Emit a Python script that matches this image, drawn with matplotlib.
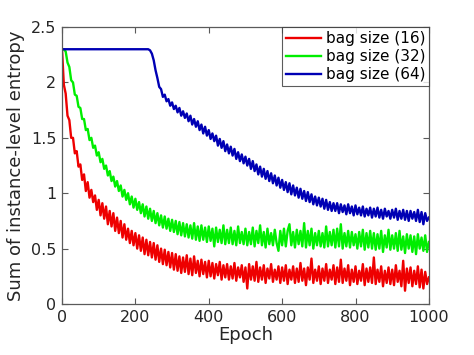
import numpy as np
import matplotlib
matplotlib.use("Agg")
import matplotlib.pyplot as plt

epochs = list(range(0, 1001, 5))

bag16 = [
    2.30, 1.98, 1.90, 1.70, 1.66, 1.50, 1.50, 1.36, 1.38, 1.24,
    1.26, 1.12, 1.17, 1.02, 1.10, 0.96, 1.03, 0.92, 0.98, 0.85,
    0.94, 0.80, 0.91, 0.77, 0.88, 0.72, 0.84, 0.70, 0.82, 0.66,
    0.78, 0.64, 0.75, 0.60, 0.72, 0.58, 0.68, 0.55, 0.66, 0.53,
    0.64, 0.50, 0.62, 0.48, 0.60, 0.45, 0.58, 0.44, 0.56, 0.42,
    0.55, 0.40, 0.53, 0.38, 0.50, 0.36, 0.49, 0.35, 0.47, 0.33,
    0.46, 0.31, 0.45, 0.30, 0.43, 0.28, 0.42, 0.29, 0.44, 0.27,
    0.41, 0.26, 0.43, 0.28, 0.39, 0.25, 0.40, 0.27, 0.38, 0.24,
    0.39, 0.25, 0.37, 0.23, 0.36, 0.26, 0.38, 0.22, 0.35, 0.24,
    0.36, 0.22, 0.34, 0.23, 0.37, 0.21, 0.33, 0.24, 0.35, 0.20,
    0.33, 0.14, 0.36, 0.22, 0.34, 0.21, 0.38, 0.20, 0.33, 0.22,
    0.35, 0.19, 0.32, 0.23, 0.36, 0.20, 0.31, 0.22, 0.34, 0.19,
    0.33, 0.21, 0.35, 0.18, 0.31, 0.22, 0.34, 0.19, 0.32, 0.20,
    0.37, 0.21, 0.32, 0.17, 0.33, 0.22, 0.41, 0.19, 0.31, 0.21,
    0.34, 0.18, 0.32, 0.21, 0.36, 0.19, 0.31, 0.22, 0.35, 0.18,
    0.33, 0.20, 0.40, 0.19, 0.32, 0.21, 0.35, 0.17, 0.31, 0.20,
    0.34, 0.18, 0.30, 0.21, 0.36, 0.17, 0.32, 0.20, 0.33, 0.19,
    0.42, 0.18, 0.31, 0.20, 0.34, 0.16, 0.30, 0.19, 0.33, 0.18,
    0.31, 0.17, 0.35, 0.20, 0.30, 0.16, 0.39, 0.12, 0.32, 0.19,
    0.33, 0.16, 0.30, 0.18, 0.34, 0.15, 0.31, 0.14, 0.29, 0.18,
    0.24,
]

bag32 = [
    2.30, 2.30, 2.28, 2.18, 2.14, 2.02, 2.00, 1.89, 1.88, 1.78,
    1.77, 1.67, 1.67, 1.57, 1.58, 1.48, 1.50, 1.41, 1.43, 1.34,
    1.37, 1.28, 1.31, 1.22, 1.25, 1.16, 1.20, 1.11, 1.15, 1.06,
    1.11, 1.02, 1.07, 0.97, 1.03, 0.94, 1.00, 0.90, 0.97, 0.87,
    0.95, 0.85, 0.92, 0.82, 0.90, 0.79, 0.88, 0.77, 0.86, 0.75,
    0.84, 0.73, 0.82, 0.71, 0.80, 0.69, 0.79, 0.68, 0.77, 0.66,
    0.76, 0.65, 0.75, 0.63, 0.74, 0.62, 0.73, 0.61, 0.72, 0.60,
    0.71, 0.59, 0.73, 0.58, 0.70, 0.57, 0.71, 0.58, 0.69, 0.56,
    0.70, 0.57, 0.68, 0.52, 0.69, 0.56, 0.67, 0.55, 0.71, 0.54,
    0.67, 0.55, 0.69, 0.54, 0.66, 0.53, 0.70, 0.55, 0.65, 0.54,
    0.68, 0.53, 0.65, 0.54, 0.69, 0.52, 0.66, 0.55, 0.71, 0.53,
    0.65, 0.51, 0.68, 0.54, 0.64, 0.53, 0.67, 0.55, 0.48, 0.66,
    0.53, 0.68, 0.52, 0.66, 0.72, 0.53, 0.65, 0.51, 0.67, 0.54,
    0.66, 0.52, 0.73, 0.51, 0.66, 0.53, 0.68, 0.50, 0.64, 0.53,
    0.66, 0.52, 0.64, 0.51, 0.70, 0.52, 0.65, 0.53, 0.67, 0.51,
    0.68, 0.52, 0.72, 0.50, 0.64, 0.52, 0.66, 0.51, 0.65, 0.53,
    0.63, 0.50, 0.65, 0.52, 0.67, 0.49, 0.64, 0.51, 0.66, 0.50,
    0.64, 0.49, 0.63, 0.50, 0.66, 0.47, 0.62, 0.51, 0.67, 0.49,
    0.62, 0.50, 0.64, 0.48, 0.66, 0.49, 0.61, 0.46, 0.63, 0.50,
    0.62, 0.47, 0.61, 0.45, 0.63, 0.50, 0.60, 0.48, 0.62, 0.47,
    0.56,
]

bag64 = [
    2.30, 2.30, 2.30, 2.30, 2.30, 2.30, 2.30, 2.30, 2.30, 2.30,
    2.30, 2.30, 2.30, 2.30, 2.30, 2.30, 2.30, 2.30, 2.30, 2.30,
    2.30, 2.30, 2.30, 2.30, 2.30, 2.30, 2.30, 2.30, 2.30, 2.30,
    2.30, 2.30, 2.30, 2.30, 2.30, 2.30, 2.30, 2.30, 2.30, 2.30,
    2.30, 2.30, 2.30, 2.30, 2.30, 2.30, 2.30, 2.30, 2.29, 2.26,
    2.20, 2.11, 2.04, 1.96, 1.94, 1.87, 1.89, 1.83, 1.85, 1.79,
    1.82, 1.76, 1.79, 1.73, 1.77, 1.70, 1.74, 1.68, 1.72, 1.65,
    1.70, 1.62, 1.67, 1.60, 1.65, 1.57, 1.62, 1.54, 1.60, 1.52,
    1.57, 1.49, 1.54, 1.47, 1.52, 1.43, 1.49, 1.41, 1.47, 1.38,
    1.44, 1.36, 1.42, 1.34, 1.40, 1.31, 1.37, 1.29, 1.35, 1.27,
    1.33, 1.25, 1.31, 1.22, 1.29, 1.20, 1.26, 1.17, 1.24, 1.15,
    1.22, 1.13, 1.20, 1.11, 1.18, 1.09, 1.16, 1.07, 1.14, 1.05,
    1.12, 1.03, 1.10, 1.01, 1.09, 0.99, 1.07, 0.98, 1.05, 0.96,
    1.04, 0.95, 1.02, 0.93, 1.01, 0.92, 0.99, 0.90, 0.97, 0.89,
    0.96, 0.88, 0.95, 0.86, 0.94, 0.85, 0.92, 0.84, 0.91, 0.84,
    0.91, 0.82, 0.90, 0.83, 0.89, 0.81, 0.90, 0.82, 0.88, 0.80,
    0.89, 0.81, 0.87, 0.80, 0.88, 0.79, 0.86, 0.80, 0.87, 0.78,
    0.86, 0.79, 0.87, 0.78, 0.85, 0.77, 0.86, 0.79, 0.84, 0.77,
    0.85, 0.78, 0.86, 0.76, 0.84, 0.77, 0.85, 0.76, 0.84, 0.75,
    0.84, 0.77, 0.83, 0.75, 0.85, 0.74, 0.83, 0.72, 0.82, 0.75,
    0.78,
]

labels = ["bag size (16)", "bag size (32)", "bag size (64)"]
colors = ["#EE0000", "#00EE00", "#0000B4"]
xticks = [0, 200, 400, 600, 800, 1000]
yticks = [0, 0.5, 1, 1.5, 2, 2.5]
ytick_labels = ["0", "0.5", "1", "1.5", "2", "2.5"]

plt.rcParams['font.family'] = ['DejaVu Sans']
fig = plt.figure(figsize=(4.74, 3.55), dpi=100)
ax = fig.add_axes([0.1308, 0.1437, 0.774, 0.780])

for ys, lab, c in zip([bag16, bag32, bag64], labels, colors):
    ax.plot(epochs, ys, color=c, lw=1.7, label=lab)

ax.set_xlim(0, 1000)
ax.set_ylim(0, 2.5)
ax.set_xticks(xticks)
ax.set_yticks(yticks)
ax.set_yticklabels(ytick_labels)
axis_col = "#5a5a5a"
for s in ax.spines.values():
    s.set_color(axis_col)
    s.set_linewidth(0.9)
ax.tick_params(direction='in', length=4, width=0.8, color=axis_col,
               top=True, right=True, labelsize=11.5, labelcolor="#262626", pad=4)
ax.set_xlabel("Epoch", fontsize=13, color="#262626", labelpad=1)
ax.set_ylabel("Sum of instance-level entropy", fontsize=13, color="#262626", labelpad=4)

leg = ax.legend(loc='upper right', fontsize=11, frameon=True, fancybox=False,
                borderpad=0.25, labelspacing=0.2, handlelength=2.3, handletextpad=0.3,
                borderaxespad=0.0)
leg.get_frame().set_edgecolor("#333333")
leg.get_frame().set_linewidth(0.8)

fig.savefig("out.png", dpi=100)
